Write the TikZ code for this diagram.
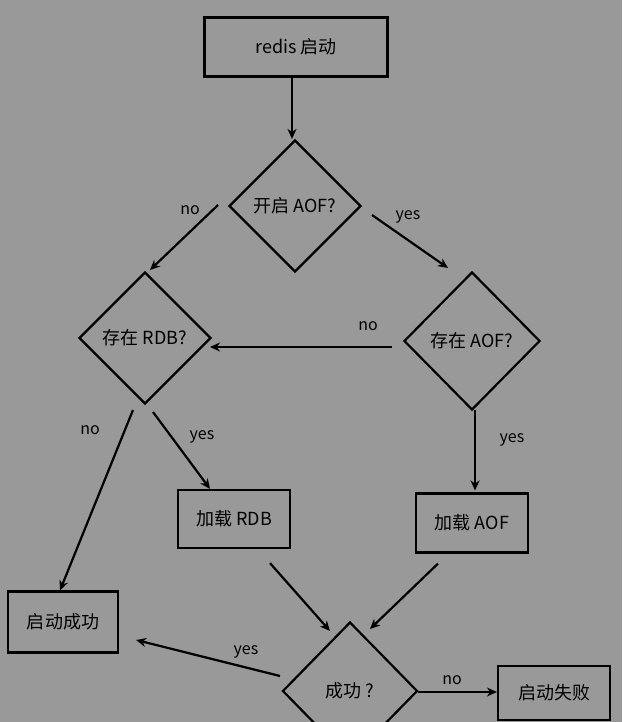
\documentclass[tikz,border=0pt]{standalone}
\usepackage{fontspec}
\setmainfont{Noto Sans CJK SC}
\usetikzlibrary{shapes.geometric,arrows.meta}
\begin{document}
\begin{tikzpicture}[x=1pt,y=-1pt,
  box/.style={draw,line width=2.2pt,inner sep=0,font=\fontsize{18}{20}\selectfont},
  dia/.style={draw,line width=2.2pt,shape=diamond,inner sep=0,minimum width=132pt,minimum height=132pt,font=\fontsize{18}{20}\selectfont},
  arr/.style={line width=2.2pt,-{Stealth[length=10pt,width=9pt]}},
  lbl/.style={font=\fontsize{16}{18}\selectfont}]
\fill[fill={rgb,255:red,153;green,153;blue,153}] (0,0) rectangle (622,722);
\useasboundingbox (0,0) rectangle (622,722);
\node[box,minimum width=183pt,minimum height=59pt] (start) at (296,47) {redis 启动};
\node[dia] (aof) at (295,206) {开启 AOF?};
\node[dia] (rdb) at (145,338) {存在 RDB?};
\node[dia,minimum width=136pt,minimum height=138pt] (haof) at (472,341) {存在 AOF?};
\node[box,minimum width=112pt,minimum height=58pt] (lrdb) at (234,519) {加载 RDB};
\node[box,minimum width=112pt,minimum height=59pt] (laof) at (472,523) {加载 AOF};
\node[box,minimum width=110pt,minimum height=61pt] (ok) at (63,622) {启动成功};
\node[dia,minimum width=135pt,minimum height=138pt] (succ) at (350,691) {成功 ?};
\node[box,minimum width=112pt,minimum height=54pt] (fail) at (554,693) {启动失败};
\draw[arr] (start.south -| 292,0) -- (aof.north -| 292,0);
\draw[arr] ([shift={(-77,-1)}]aof.center) -- ([shift={(5,-68)}]rdb.center);
\node[lbl] at (190,210) {no};
\draw[arr] ([shift={(77,9)}]aof.center) -- ([shift={(-24,-73)}]haof.center);
\node[lbl] at (408,217) {yes};
\draw[arr] ([shift={(-80,6)}]haof.center) -- ([shift={(65,9)}]rdb.center);
\node[lbl] at (368,326) {no};
\draw[arr] ([shift={(-12,72)}]rdb.center) -- (ok.north -| 60,0);
\node[lbl] at (90,430) {no};
\draw[arr] ([shift={(8,74)}]rdb.center) -- ([shift={(-24,0)}]lrdb.north);
\node[lbl] at (202,437) {yes};
\draw[arr] ([shift={(3,69)}]haof.center) -- ([shift={(3,-2)}]laof.north);
\node[lbl] at (512,440) {yes};
\draw[arr] ([shift={(36,14)}]lrdb.south) -- ([shift={(-20,-60)}]succ.center);
\draw[arr] ([shift={(-34,10)}]laof.south) -- ([shift={(20,-62)}]succ.center);
\draw[arr] ([shift={(-70,-15)}]succ.center) -- ([shift={(17,18)}]ok.east);
\node[lbl] at (246,652) {yes};
\draw[arr] ([shift={(68,1)}]succ.center) -- (fail.west |- 0,692);
\node[lbl] at (452,680) {no};
\end{tikzpicture}
\end{document}
